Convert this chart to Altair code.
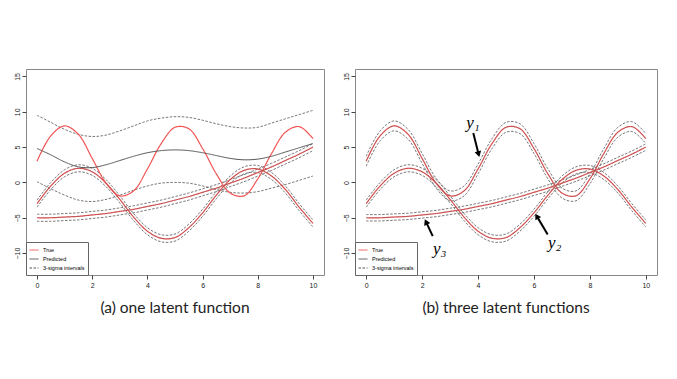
import altair as alt
import pandas as pd

# ---------------- data ----------------
X = [0.0, 0.5, 1.0, 1.5, 2.0, 2.5, 3.0, 3.5, 4.0, 4.5, 5.0,
     5.5, 6.0, 6.5, 7.0, 7.5, 8.0, 8.5, 9.0, 9.5, 10.0]

# true latent outputs (red)
Y1_TRUE = [3.0, 6.6, 8.0, 6.8, 3.4, -0.1, -1.9, -1.2, 1.9, 5.5, 7.8,
           7.6, 4.8, 1.2, -1.5, -1.9, 0.5, 4.1, 7.1, 7.9, 6.2]
Y2_TRUE = [-3.0, -0.5, 1.3, 2.0, 1.5, -0.1, -2.4, -4.9, -6.9, -7.9, -7.8,
           -6.4, -4.3, -1.8, 0.4, 1.7, 1.9, 0.9, -1.0, -3.5, -5.8]
Y3_TRUE = [-5.0, -5.0, -4.9, -4.8, -4.6, -4.4, -4.1, -3.8, -3.4, -3.0, -2.5,
           -2.0, -1.4, -0.8, -0.1, 0.6, 1.4, 2.2, 3.1, 4.0, 5.0]

# panel (a): poor prediction of y1 with its wide interval
A_Y1_PRED = [4.8, 3.9, 2.9, 2.2, 2.1, 2.5, 3.1, 3.7, 4.2, 4.5, 4.6,
             4.5, 4.2, 3.8, 3.4, 3.2, 3.3, 3.7, 4.3, 4.9, 5.5]
A_Y1_UPPER = [9.5, 8.5, 7.5, 6.8, 6.5, 6.7, 7.3, 8.0, 8.7, 9.1, 9.3,
              9.2, 8.8, 8.3, 7.9, 7.7, 7.8, 8.4, 9.0, 9.6, 10.2]
A_Y1_LOWER = [0.1, -0.9, -1.8, -2.5, -2.7, -2.4, -1.8, -1.1, -0.5, -0.1, 0.0,
              -0.1, -0.5, -1.0, -1.4, -1.5, -1.3, -0.8, -0.3, 0.3, 0.9]

# half-widths of the narrow 3-sigma bands
A_HALF = {"y2": 0.5, "y3": 0.5}
B_HALF = {"y1": 0.7, "y2": 0.5, "y3": 0.45}

TYPES = ["True", "Predicted", "3-sigma intervals"]
COLORS = ["#f25555", "#555555", "#555555"]
DASHES = [[1, 0], [1, 0], [2.5, 1.5]]

CAPTIONS = ["(a) one latent function", "(b) three latent functions"]

# annotations of panel (b)
ANN_LABEL = ["y\u2081", "y\u2082", "y\u2083"]
ANN_TX = [3.82, 6.74, 2.63]
ANN_TY = [8.4, -8.6, -9.45]
ARR_X0 = [3.83, 6.49, 2.38]
ARR_Y0 = [7.0, -7.37, -7.6]
ARR_X1 = [4.02, 6.10, 2.14]
ARR_Y1 = [4.0, -4.77, -5.58]
ARR_ANG = [166, 329, 335]

TRUE = {"y1": Y1_TRUE, "y2": Y2_TRUE, "y3": Y3_TRUE}


def frame(series, typ):
    rows = []
    for sid, ys in series.items():
        for x, y in zip(X, ys):
            rows.append({"x": x, "y": y, "sid": sid, "type": typ})
    return pd.DataFrame(rows)


def bands(keys, half):
    out = {}
    for k in keys:
        out[k + "_u"] = [v + half[k] for v in TRUE[k]]
        out[k + "_l"] = [v - half[k] for v in TRUE[k]]
    return out


xs = alt.Scale(domain=[-0.4, 10.4], nice=False, zero=False)
ys = alt.Scale(domain=[-13.1, 16.05], nice=False, zero=False)
xax = alt.Axis(values=[0, 2, 4, 6, 8, 10], title=None)
yax = alt.Axis(values=[-10, -5, 0, 5, 10, 15], title=None, labelAngle=-90,
               labelAlign="center", labelBaseline="bottom",
               minExtent=14, maxExtent=14)

color = alt.Color("type:N", scale=alt.Scale(domain=TYPES, range=COLORS),
                  legend=alt.Legend(title=None))
dash = alt.StrokeDash("type:N", scale=alt.Scale(domain=TYPES, range=DASHES),
                      legend=alt.Legend(title=None))


def lines(df, sw, op=1.0):
    return alt.Chart(df).mark_line(
        strokeWidth=sw, opacity=op, interpolate="catmull-rom", clip=True
    ).encode(
        x=alt.X("x:Q", scale=xs, axis=xax),
        y=alt.Y("y:Q", scale=ys, axis=yax),
        color=color, strokeDash=dash, detail="sid:N",
    )


def caption(text):
    return alt.TitleParams(text, orient="bottom", fontSize=15.5, font="Lato",
                           fontWeight="normal", color="#222", offset=13)


# panel (a)
a_int = bands(["y2", "y3"], A_HALF)
a_int["y1_u"] = A_Y1_UPPER
a_int["y1_l"] = A_Y1_LOWER
panel_a = alt.layer(
    lines(frame(a_int, "3-sigma intervals"), 0.8),
    lines(frame(TRUE, "True"), 1.2),
    lines(frame({"y2": Y2_TRUE, "y3": Y3_TRUE}, "Predicted"), 0.6, 0.5),
    lines(frame({"y1p": A_Y1_PRED}, "Predicted"), 1.0),
).properties(width=298, height=206, title=caption(CAPTIONS[0]))

# panel (b)
ann = pd.DataFrame({"label": ANN_LABEL, "tx": ANN_TX, "ty": ANN_TY,
                    "x0": ARR_X0, "y0": ARR_Y0, "x1": ARR_X1, "y1": ARR_Y1,
                    "ang": ARR_ANG})
arrows = alt.Chart(ann).mark_rule(color="black", strokeWidth=2).encode(
    x="x0:Q", y="y0:Q", x2="x1:Q", y2="y1:Q")
heads = alt.Chart(ann).mark_point(shape="triangle-up", filled=True,
                                  color="black", opacity=1, size=45).encode(
    x="x1:Q", y="y1:Q", angle=alt.Angle("ang:Q", scale=None))
labels = alt.Chart(ann).mark_text(font="Liberation Serif", fontStyle="italic",
                                  fontSize=17, color="black").encode(
    x="tx:Q", y="ty:Q", text="label:N")

panel_b = alt.layer(
    lines(frame(bands(["y1", "y2", "y3"], B_HALF), "3-sigma intervals"), 0.8),
    lines(frame(TRUE, "True"), 1.2),
    lines(frame(TRUE, "Predicted"), 0.6, 0.5),
    arrows, heads, labels,
).properties(width=302, height=206, title=caption(CAPTIONS[1]))

chart = alt.hconcat(panel_a, panel_b, spacing=15).resolve_scale(
    color="independent", strokeDash="independent"
).properties(
    padding={"left": 3, "top": 60, "right": 0, "bottom": 0}
).configure_view(
    stroke="#888", strokeWidth=1
).configure_axis(
    domain=False, grid=False, tickColor="#444", tickSize=4,
    labelColor="#222", labelFont="Liberation Sans", labelFontSize=7,
    labelPadding=2,
).configure_legend(
    orient="bottom-left", offset=0, padding=3, strokeColor="#666",
    fillColor="white", symbolType="stroke", symbolSize=81,
    symbolStrokeWidth=1, labelFontSize=5.5, labelFont="Liberation Sans",
    rowPadding=0, labelOffset=4,
)

chart.save("out.html", embed_options={"renderer": "svg", "actions": False})
